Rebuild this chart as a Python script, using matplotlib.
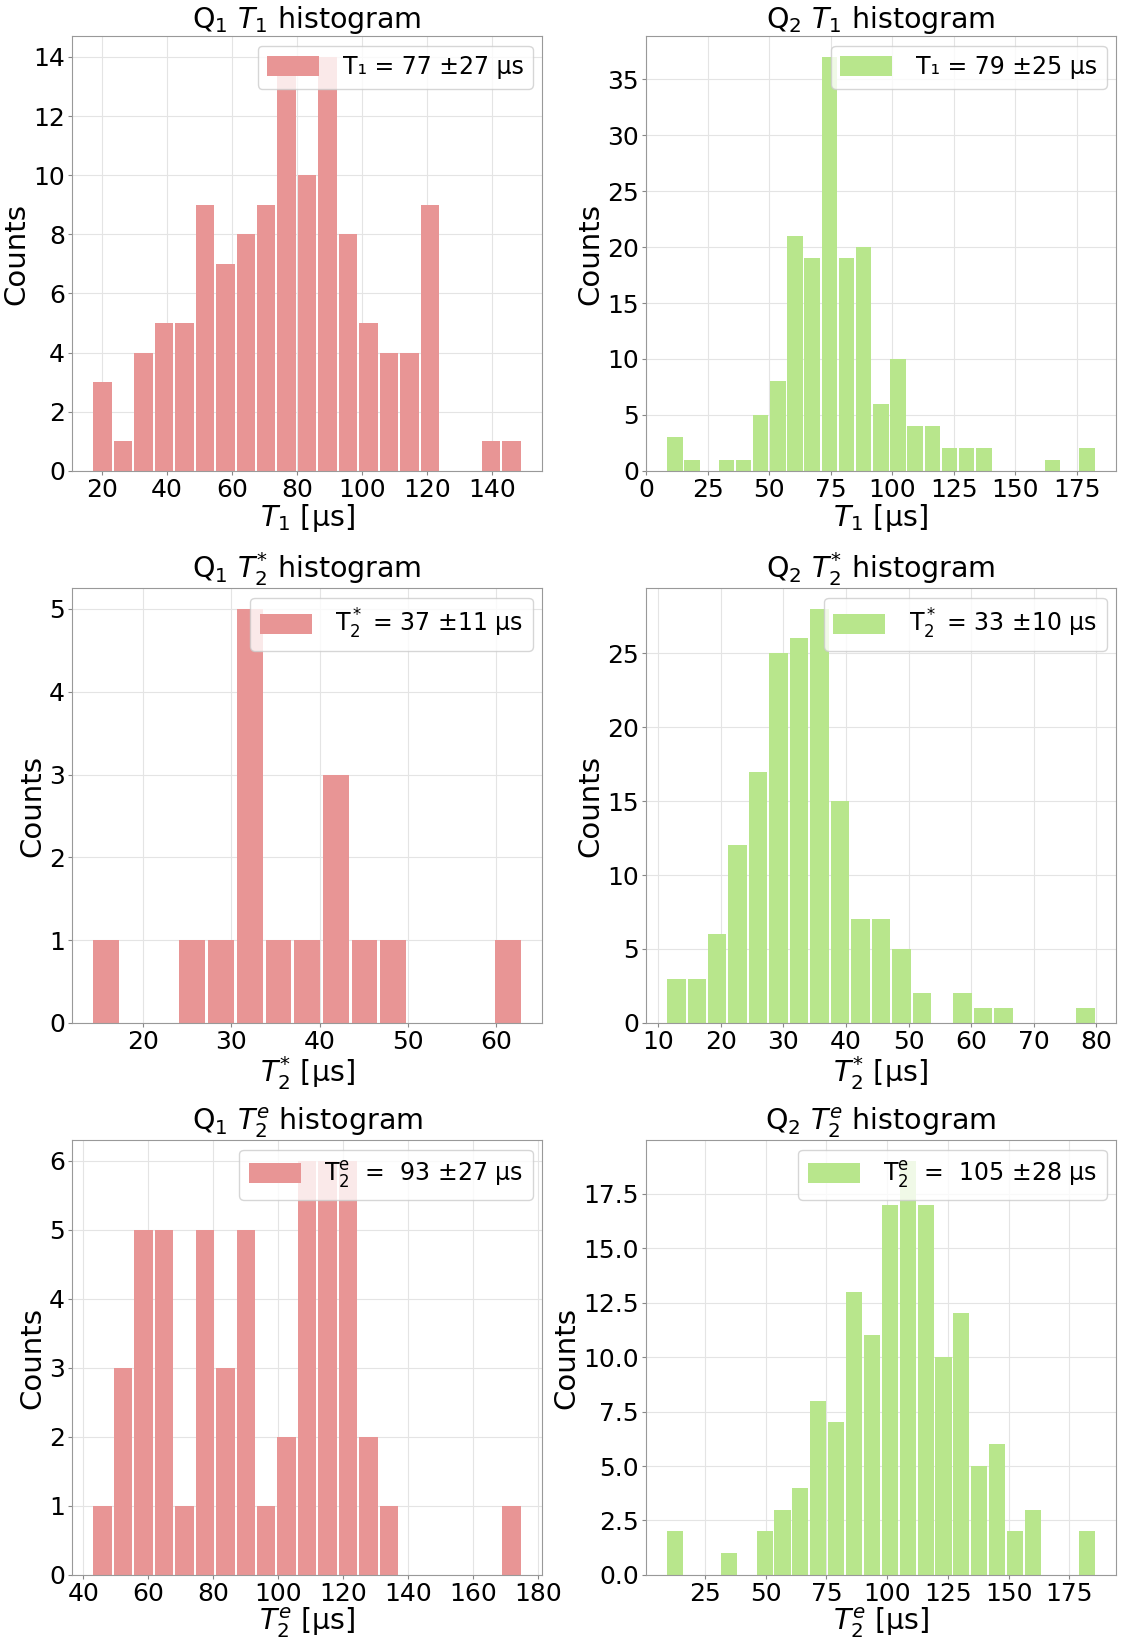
import matplotlib.pyplot as plt
from matplotlib.ticker import MultipleLocator
import numpy as np

# bin start, bin width and counts
q1_t1_start, q1_t1_width = 17.0, 6.3
q1_t1_counts = [3, 1, 4, 5, 5, 9, 7, 8, 9, 14, 10, 14, 8, 5, 4, 4, 9, 0, 0, 1, 1]

q2_t1_start, q2_t1_width = 8.1, 6.98
q2_t1_counts = [3, 1, 0, 1, 1, 5, 8, 21, 19, 37, 19, 20, 6, 10, 4, 4, 2, 2, 2,
                0, 0, 0, 1, 0, 2]

q1_t2s_start, q1_t2s_width = 14.2, 3.25
q1_t2s_counts = [1, 0, 0, 1, 1, 5, 1, 1, 3, 1, 1, 0, 0, 0, 1]

q2_t2s_start, q2_t2s_width = 11.3, 3.265
q2_t2s_counts = [3, 3, 6, 12, 17, 25, 26, 28, 15, 7, 7, 5, 2, 0, 2, 1, 1, 0, 0, 0, 1]

q1_t2e_start, q1_t2e_width = 42.8, 6.3
q1_t2e_counts = [1, 3, 5, 5, 1, 5, 3, 5, 1, 2, 6, 6, 6, 2, 1, 0, 0, 0, 0, 0, 1]

q2_t2e_start, q2_t2e_width = 9.1, 7.36
q2_t2e_counts = [2, 0, 0, 1, 0, 2, 3, 4, 8, 7, 13, 11, 17, 19, 17, 10, 12, 5, 6,
                 2, 3, 0, 0, 2]

titles = [r"Q$_1$ $T_1$ histogram", r"Q$_2$ $T_1$ histogram",
          r"Q$_1$ $T_2^{*}$ histogram", r"Q$_2$ $T_2^{*}$ histogram",
          r"Q$_1$ $T_2^{e}$ histogram", r"Q$_2$ $T_2^{e}$ histogram"]
xlabels = [r"$T_1$ [μs]", r"$T_1$ [μs]", r"$T_2^{*}$ [μs]", r"$T_2^{*}$ [μs]",
           r"$T_2^{e}$ [μs]", r"$T_2^{e}$ [μs]"]
legends = ["T₁ = 77 ±27 μs", "T₁ = 79 ±25 μs",
           r"T$_2^*$ = 37 ±11 μs", r"T$_2^*$ = 33 ±10 μs",
           r"T$_2^\mathrm{e}$  =  93 ±27 μs", r"T$_2^\mathrm{e}$  =  105 ±28 μs"]
xsteps = [20, 25, 10, 10, 20, 25]
ysteps = [2, 5, 1, 5, 1, 2.5]

red = "#e89595"
green = "#b8e68c"

data = [
    (q1_t1_start, q1_t1_width, q1_t1_counts, red),
    (q2_t1_start, q2_t1_width, q2_t1_counts, green),
    (q1_t2s_start, q1_t2s_width, q1_t2s_counts, red),
    (q2_t2s_start, q2_t2s_width, q2_t2s_counts, green),
    (q1_t2e_start, q1_t2e_width, q1_t2e_counts, red),
    (q2_t2e_start, q2_t2e_width, q2_t2e_counts, green),
]


def plot_hist(ax, start, width, counts, color, title, xlabel, label, xs, ys):
    counts = np.array(counts)
    edges = start + width * np.arange(len(counts) + 1)
    centers = edges[:-1] + width / 2
    ax.hist(centers, bins=edges, weights=counts, rwidth=0.9, color=color,
            label=label, zorder=2)
    ax.xaxis.set_major_locator(MultipleLocator(xs))
    ax.yaxis.set_major_locator(MultipleLocator(ys))
    ax.grid(True, color="#e4e4e4", linewidth=0.8, zorder=0)
    ax.set_axisbelow(True)
    ax.set_title(title, fontsize=20.5, pad=4)
    ax.set_xlabel(xlabel, fontsize=20.5, labelpad=0)
    ax.set_ylabel("Counts", fontsize=21, labelpad=2)
    ax.tick_params(labelsize=18, length=3, color="#888888", pad=2)
    for s in ax.spines.values():
        s.set_color("#999999")
    ax.legend(loc="upper right", fontsize=17, handlelength=2.2,
              handleheight=0.9, handletextpad=1.0, borderaxespad=0.4)


def main():
    fig, axes = plt.subplots(3, 2, figsize=(11.25, 16.44), dpi=100)
    fig.subplots_adjust(left=0.064, right=0.992, top=0.978, bottom=0.042,
                        wspace=0.22, hspace=0.27)
    for i, ax in enumerate(axes.flat):
        d = data[i]
        plot_hist(ax, d[0], d[1], d[2], d[3], titles[i], xlabels[i],
                  legends[i], xsteps[i], ysteps[i])
    fig.savefig("out.png", dpi=100)


if __name__ == "__main__":
    main()
